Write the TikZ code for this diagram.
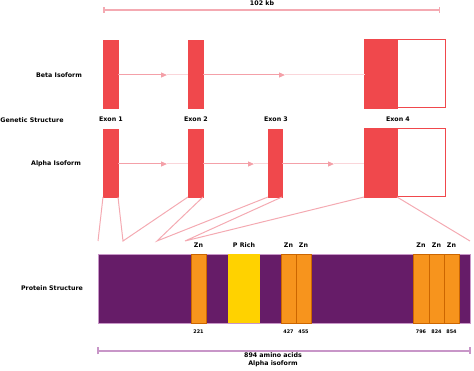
\documentclass[tikz,border=0pt]{standalone}
\usepackage{fontspec}
\setmainfont{DejaVu Sans}
\usepackage{tikz}
\usetikzlibrary{arrows.meta}
\definecolor{exonred}{RGB}{240,72,76}
\definecolor{linkpink}{RGB}{244,160,168}
\definecolor{faintpink}{RGB}{250,214,218}
\definecolor{rulepink}{RGB}{244,170,178}
\definecolor{rulepurple}{RGB}{200,150,200}
\definecolor{protpurple}{RGB}{102,28,104}
\definecolor{znorange}{RGB}{247,148,29}
\definecolor{prichyellow}{RGB}{255,210,0}
\tikzstyle{txt} = [font=\fontsize{6.3}{8.5}\selectfont\bfseries, inner sep=0pt]
\tikzstyle{numtxt} = [font=\fontsize{4.9}{6}\selectfont\bfseries, inner sep=0pt]
\tikzstyle{exon} = [draw=exonred, fill=exonred, rectangle, inner sep=0pt, outer sep=0pt, minimum height=68pt, minimum width=15pt]
\tikzstyle{exonbox} = [draw=exonred, line width=1pt, fill=white, rectangle, inner sep=0pt, outer sep=0pt, minimum height=68pt]
\tikzstyle{link} = [draw=linkpink, line width=1pt]
\tikzstyle{faintlink} = [draw=faintpink, line width=1pt]
\tikzstyle{funnel} = [draw=rulepink, line width=1pt]
\tikzstyle{protdomain} = [rectangle, inner sep=0pt, outer sep=0pt, minimum height=69pt, draw=orange!80!black, line width=0.4pt]

\begin{document}
\begin{tikzpicture}[x=1pt, y=-1pt, >={Triangle[length=6pt,width=5pt]}]
    \useasboundingbox (0,0) rectangle (474,371);

    % scale bar
    \node [txt] (kb) at (262,3) {102 kb};
    \coordinate (kbl) at (103,10);
    \coordinate (kbr) at (440,10);
    \draw [rulepink, line width=1.5pt, {Bar[width=6pt]}-{Bar[width=6pt]}] (kbl) -- (kbr);

    % row labels
    \node [txt] (beta) at (59,75) {Beta Isoform};
    \node [txt] (gen) at (32,120) {Genetic Structure};
    \node [txt] (alpha) at (56,164) {Alpha Isoform};
    \node [txt] (prot) at (52,288) {Protein Structure};

    % beta isoform
    \node [exon] (b1) at (110.5,74) {};
    \node [exon] (b2) at (195.5,74) {};
    \node [exonbox, minimum width=81pt] (b4) at (405,74) {};
    \node [exon, minimum width=33pt] (b4f) at (381,74) {};
    \coordinate (bt1) at (167,75);
    \coordinate (bt2) at (285,75);
    \draw [link, ->] (b1.east |- bt1) -- (bt1);
    \draw [faintlink] (bt1) -- (b2.west |- bt1);
    \draw [link, ->] (b2.east |- bt2) -- (bt2);
    \draw [faintlink] (bt2) -- (b4.west |- bt2);

    % exon labels
    \node [txt] (ex1) at (111,119) {Exon 1};
    \node [txt] (ex2) at (196,119) {Exon 2};
    \node [txt] (ex3) at (276,119) {Exon 3};
    \node [txt] (ex4) at (398,119) {Exon 4};

    % alpha isoform
    \node [exon] (a1) at (110.5,163) {};
    \node [exon] (a2) at (195.5,163) {};
    \node [exon, minimum width=14pt] (a3) at (275,163) {};
    \node [exonbox, minimum width=81pt] (a4) at (404.5,163) {};
    \node [exon, minimum width=33pt] (a4f) at (380.5,163) {};
    \coordinate (at1) at (167,164);
    \coordinate (at2) at (254,164);
    \coordinate (at3) at (334,164);
    \draw [link, ->] (a1.east |- at1) -- (at1);
    \draw [faintlink] (at1) -- (a2.west |- at1);
    \draw [link, ->] (a2.east |- at2) -- (at2);
    \draw [faintlink] (at2) -- (a3.west |- at2);
    \draw [link, ->] (a3.east |- at3) -- (at3);
    \draw [faintlink] (at3) -- (a4.west |- at3);

    % exons onto protein
    \coordinate (p0) at (98,241);
    \coordinate (p1) at (123,241);
    \coordinate (p2) at (157,241);
    \coordinate (p3) at (185,241);
    \coordinate (p4) at (470,241);
    \draw [funnel] (a1.south west) -- (p0);
    \draw [funnel] (a1.south east) -- (p1) -- (a2.south west);
    \draw [funnel] (a2.south east) -- (p2) -- (a3.south west);
    \draw [funnel] (a3.south east) -- (p3) -- (a4.south west);
    \draw [funnel] (a4f.south east) -- (p4);

    % protein
    \node [rectangle, fill=protpurple, draw=rulepurple, line width=0.4pt, inner sep=0pt, minimum width=372pt, minimum height=69pt] (bar) at (284,288.5) {};
    \node [protdomain, fill=znorange, minimum width=15pt] (zn1) at (198.5,288.5) {};
    \node [protdomain, fill=prichyellow, draw=none, minimum width=32pt] (prich) at (244,288.5) {};
    \node [protdomain, fill=znorange, minimum width=15pt] (zn2) at (288.5,288.5) {};
    \node [protdomain, fill=znorange, minimum width=15pt] (zn3) at (303.5,288.5) {};
    \node [protdomain, fill=znorange, minimum width=16pt] (zn4) at (421,288.5) {};
    \node [protdomain, fill=znorange, minimum width=15pt] (zn5) at (436.5,288.5) {};
    \node [protdomain, fill=znorange, minimum width=15pt] (zn6) at (451.5,288.5) {};

    \foreach \d/\t in {zn1/Zn, prich/P Rich, zn2/Zn, zn3/Zn, zn4/Zn, zn5/Zn, zn6/Zn}
        \node [txt] (\d-t) at (\d.north |- 0,245) {\t};
    \foreach \d/\n in {zn1/221, zn2/427, zn3/455, zn4/796, zn5/824, zn6/854}
        \node [numtxt] (\d-n) at (\d.south |- 0,332) {\n};

    % length bar
    \coordinate (aal) at (97,351);
    \coordinate (aar) at (471,351);
    \draw [rulepurple, line width=2pt, {Bar[width=7pt]}-{Bar[width=7pt]}] (aal) -- (aar);
    \node [txt, align=center] (aa) at (273,360) {894 amino acids\\Alpha isoform};

  \end{tikzpicture}
\end{document}
